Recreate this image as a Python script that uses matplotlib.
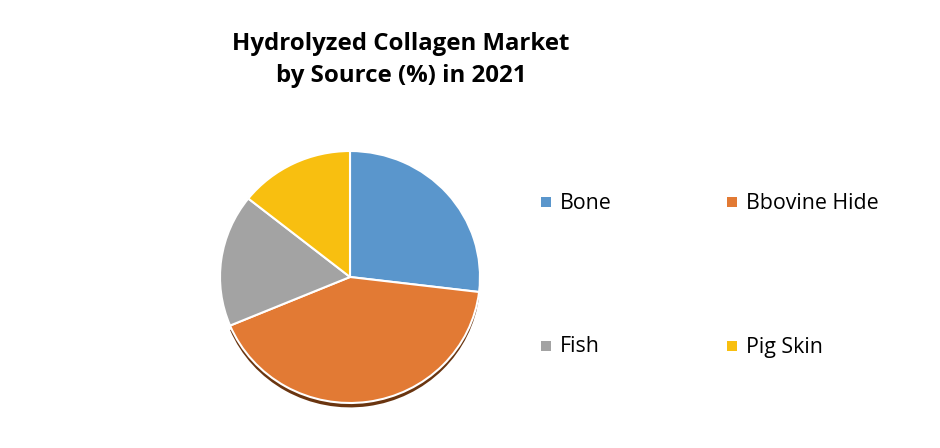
import matplotlib.pyplot as plt
from matplotlib.patches import Rectangle

# data
sources = ['Bone', 'Bbovine Hide', 'Fish', 'Pig Skin']
shares = [26.9, 41.8, 17.0, 14.3]
colors = ['#5A96CC', '#E27A34', '#A3A3A3', '#F8BF10']
shadow_colors = ['none', '#6a3510', 'none', 'none']
title = 'Hydrolyzed Collagen Market\nby Source (%) in 2021'

W, H = 940, 448
fig = plt.figure(figsize=(W / 100, H / 100), dpi=100)
plt.rcParams['font.family'] = ['Open Sans', 'DejaVu Sans']

# pie axes, placed in pixels (slightly wider than tall like the original)
cx, cy, rx, ry = 350, 277, 130, 126
ax = fig.add_axes([(cx - rx) / W, 1 - (cy + ry) / H, 2 * rx / W, 2 * ry / H])

# shadow first, shifted down a little
ax.pie(shares, colors=shadow_colors, startangle=90, counterclock=False,
       radius=1.0, center=(0, -0.035), wedgeprops=dict(linewidth=0))
wedges, _ = ax.pie(shares, colors=colors, startangle=90, counterclock=False,
                   radius=1.0, wedgeprops=dict(edgecolor='white', linewidth=1.5))
ax.set_aspect('auto')
ax.set_xlim(-1, 1)
ax.set_ylim(-1, 1)
ax.axis('off')

fig.text(401 / W, 1 - 60 / H, title, ha='center', va='center',
         fontsize=17.3, fontweight='bold', linespacing=1.5)

# legend, 2 columns x 2 rows
for i, (lab, col) in enumerate(zip(sources, colors)):
    x = 541 + (i % 2) * 186
    y = 202 + (i // 2) * 144
    fig.add_artist(Rectangle((x / W, 1 - (y + 5) / H), 10 / W, 10 / H,
                             transform=fig.transFigure, color=col, lw=0))
    fig.text((x + 19) / W, 1 - (y + 1) / H, lab, ha='left', va='center',
             fontsize=15.4)

fig.savefig('out.png', dpi=100)
